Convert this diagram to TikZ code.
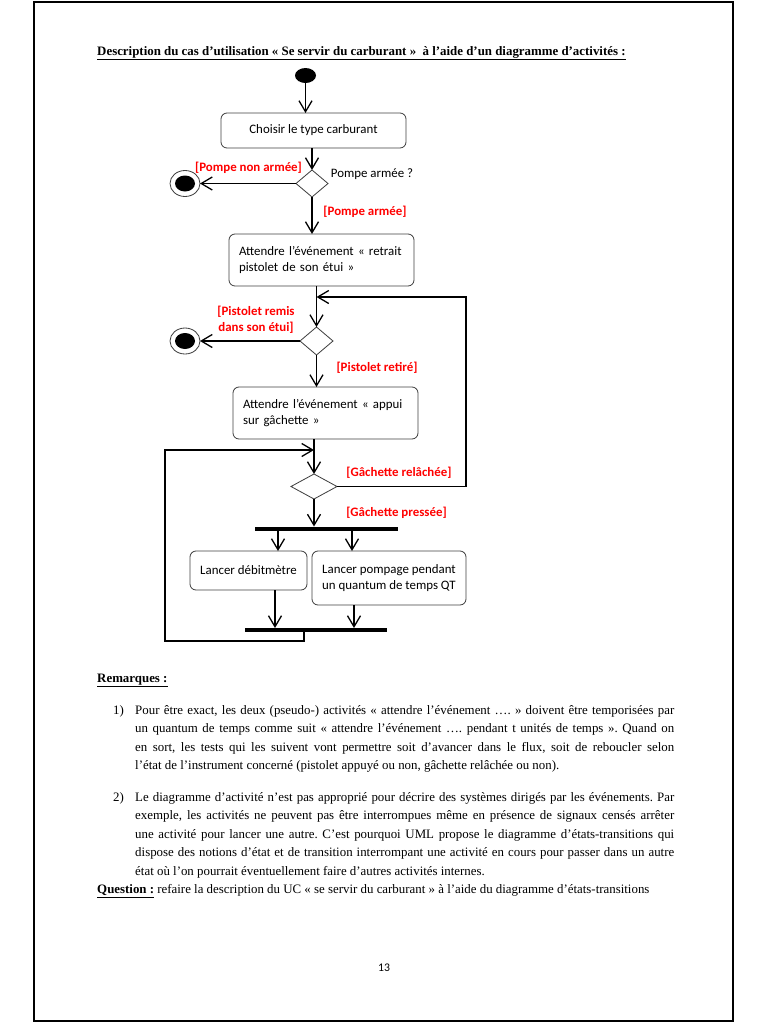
\documentclass[tikz,border=0pt]{standalone}
\usepackage{fontspec}
\setmainfont{Liberation Serif}
\newfontfamily\calfont{Carlito}
\usetikzlibrary{shapes.geometric,arrows.meta}
\frenchspacing

\tikzset{
  act/.style={draw=black!75,line width=0.7pt,rounded corners=1.8mm,fill=white,inner sep=0pt,outer sep=0pt,font=\calfont\fontsize{11}{14}\selectfont},
  choice/.style={diamond,draw=black!75,line width=0.7pt,fill=white,inner sep=0pt,outer sep=0pt},
  guard/.style={text=red,font=\calfont\bfseries\fontsize{11}{13.5}\selectfont,inner sep=0pt,align=center},
  arr/.style={line width=1.3pt,-{Straight Barb[length=3.3mm,width=3.9mm,line width=1.1pt]}},
  syncbar/.style={fill=black,inner sep=0pt,outer sep=0pt,minimum height=1.2mm},
  initnode/.style={ellipse,fill=black,inner sep=0pt,minimum width=6.3mm,minimum height=4.5mm},
  finalnode/.style={ellipse,draw=black!75,line width=0.7pt,inner sep=0pt,outer sep=0pt,minimum width=9mm,minimum height=7.8mm,
    path picture={\fill (path picture bounding box.center) ellipse (3mm and 2.4mm);}},
  para/.style={anchor=base west,inner sep=0pt,text width=161.7mm,align=justify,font=\fontsize{11}{15.8}\selectfont},
  plain/.style={anchor=base west,inner sep=0pt,font=\fontsize{11}{15.8}\selectfont}
}

\begin{document}
\begin{tikzpicture}[x=0.3mm,y=-0.3mm]
\useasboundingbox (0,0) rectangle (768,1024);
\draw[line width=1.2pt] (34,2) rectangle (733,1021);

% diagram
\node[initnode] (init) at (305.5,75.5) {};
\node[act,minimum width=55.5mm,minimum height=10.5mm] (b1) at (313.5,130.5) {Choisir le type carburant};
\node[choice,minimum width=9.6mm,minimum height=8.1mm] (d1) at (312,183.5) {};
\node[finalnode] (f1) at (185,183.5) {};
\node[act,text width=49.5mm,inner xsep=3mm,minimum height=15.6mm,align=left] (b2) at (321.5,260) {Attendre l’événement « retrait\\pistolet de son étui »};
\node[choice,minimum width=9.9mm,minimum height=8.4mm] (d2) at (316.5,341) {};
\node[finalnode] (f2) at (185,341) {};
\node[act,text width=49.5mm,inner xsep=3mm,minimum height=15.6mm,align=left] (b3) at (325.5,413) {Attendre l’événement « appui\\sur gâchette »};
\node[choice,minimum width=13.8mm,minimum height=7.5mm] (d3) at (314,486.5) {};
\node[syncbar,minimum width=42.9mm] (fork) at (326,528.5) {};
\node[act,minimum width=35.1mm,minimum height=11.7mm,align=left] (b4) at (248.5,570.5) {Lancer débitmètre};
\node[act,minimum width=46.2mm,minimum height=16.2mm,align=left] (b5) at (389,578) {Lancer pompage pendant\\un quantum de temps QT};
\node[syncbar,minimum width=42.6mm] (join) at (316,630) {};

\node[font=\calfont\fontsize{11}{13}\selectfont,inner sep=0pt] (q1) at (372,174) {Pompe armée ?};
\foreach \x/\y/\n/\t in {248.5/168/g1/{[Pompe non armée]}, 365/212/g2/{[Pompe armée]}, 256/319.5/g3/{[Pistolet remis\\dans son étui]},
    377/368/g4/{[Pistolet retiré]}, 399/473/g5/{[Gâchette relâchée]}, 396.5/513/g6/{[Gâchette pressée]}}
  \node[guard] (\n) at (\x,\y) {\t};

\coordinate (colA) at (278,0);
\coordinate (colB) at (352,0);
\coordinate (colC) at (275,0);
\coordinate (colD) at (354,0);
\coordinate (colJ) at (304,0);
\coordinate (loopL) at (165,641);
\coordinate (loopT) at (0,450);
\coordinate (loopR) at (466,297);

\foreach \s/\t in {init/init |- b1.north, b1.south -| d1/d1.north, d1.west/f1.east, d1.south/d1.south |- b2.north,
    b2.south -| d2/d2.north, d2.west/f2.east, d2.south/d2.south |- b3.north, b3.south -| d3/d3.north,
    d3.south/d3.south |- fork.north, colA |- fork.south/colA |- b4.north, colB |- fork.south/colB |- b5.north,
    colC |- b4.south/colC |- join.north, colD |- b5.south/colD |- join.north}
  \draw[arr] (\s) -- (\t);
\draw[arr] (d3.east) -| (loopR) -- (d2 |- loopR);
\draw[arr] (colJ |- join.south) |- (loopL) |- (d3 |- loopT);

% text of the page
\node[plain,font=\bfseries\fontsize{11}{15.8}\selectfont] (title) at (97,55) {\underline{Description du cas d’utilisation « Se servir du carburant »\ \ à l’aide d’un diagramme d’activités :}};
\node[plain,font=\bfseries\fontsize{11}{15.8}\selectfont] (rem) at (97,682) {\underline{Remarques :}};
\node[plain] (n1) at (113,714) {1)};
\node[para] (p1) at (135,714) {Pour être exact, les deux (pseudo-) activités « attendre l’événement …. » doivent être temporisées par\linebreak
un quantum de temps comme suit « attendre l’événement …. pendant t unités de temps ». Quand on\linebreak
en sort, les tests qui les suivent vont permettre soit d’avancer dans le flux, soit de reboucler selon\linebreak
l’état de l’instrument concerné (pistolet appuyé ou non, gâchette relâchée ou non).};
\node[plain] (n2) at (113,801) {2)};
\node[para] (p2) at (135,801) {Le diagramme d’activité n’est pas approprié pour décrire des systèmes dirigés par les événements. Par\linebreak
exemple, les activités ne peuvent pas être interrompues même en présence de signaux censés arrêter\linebreak
une activité pour lancer une autre. C’est pourquoi UML propose le diagramme d’états-transitions qui\linebreak
dispose des notions d’état et de transition interrompant une activité en cours pour passer dans un autre\linebreak
état où l’on pourrait éventuellement faire d’autres activités internes.};
\node[plain] (qu) at (97,893) {\textbf{\underline{Question :}} refaire la description du UC « se servir du carburant » à l’aide du diagramme d’états-transitions};
\node[font=\calfont\fontsize{10}{12}\selectfont,inner sep=0pt] (pg) at (384,968) {13};
\end{tikzpicture}
\end{document}
